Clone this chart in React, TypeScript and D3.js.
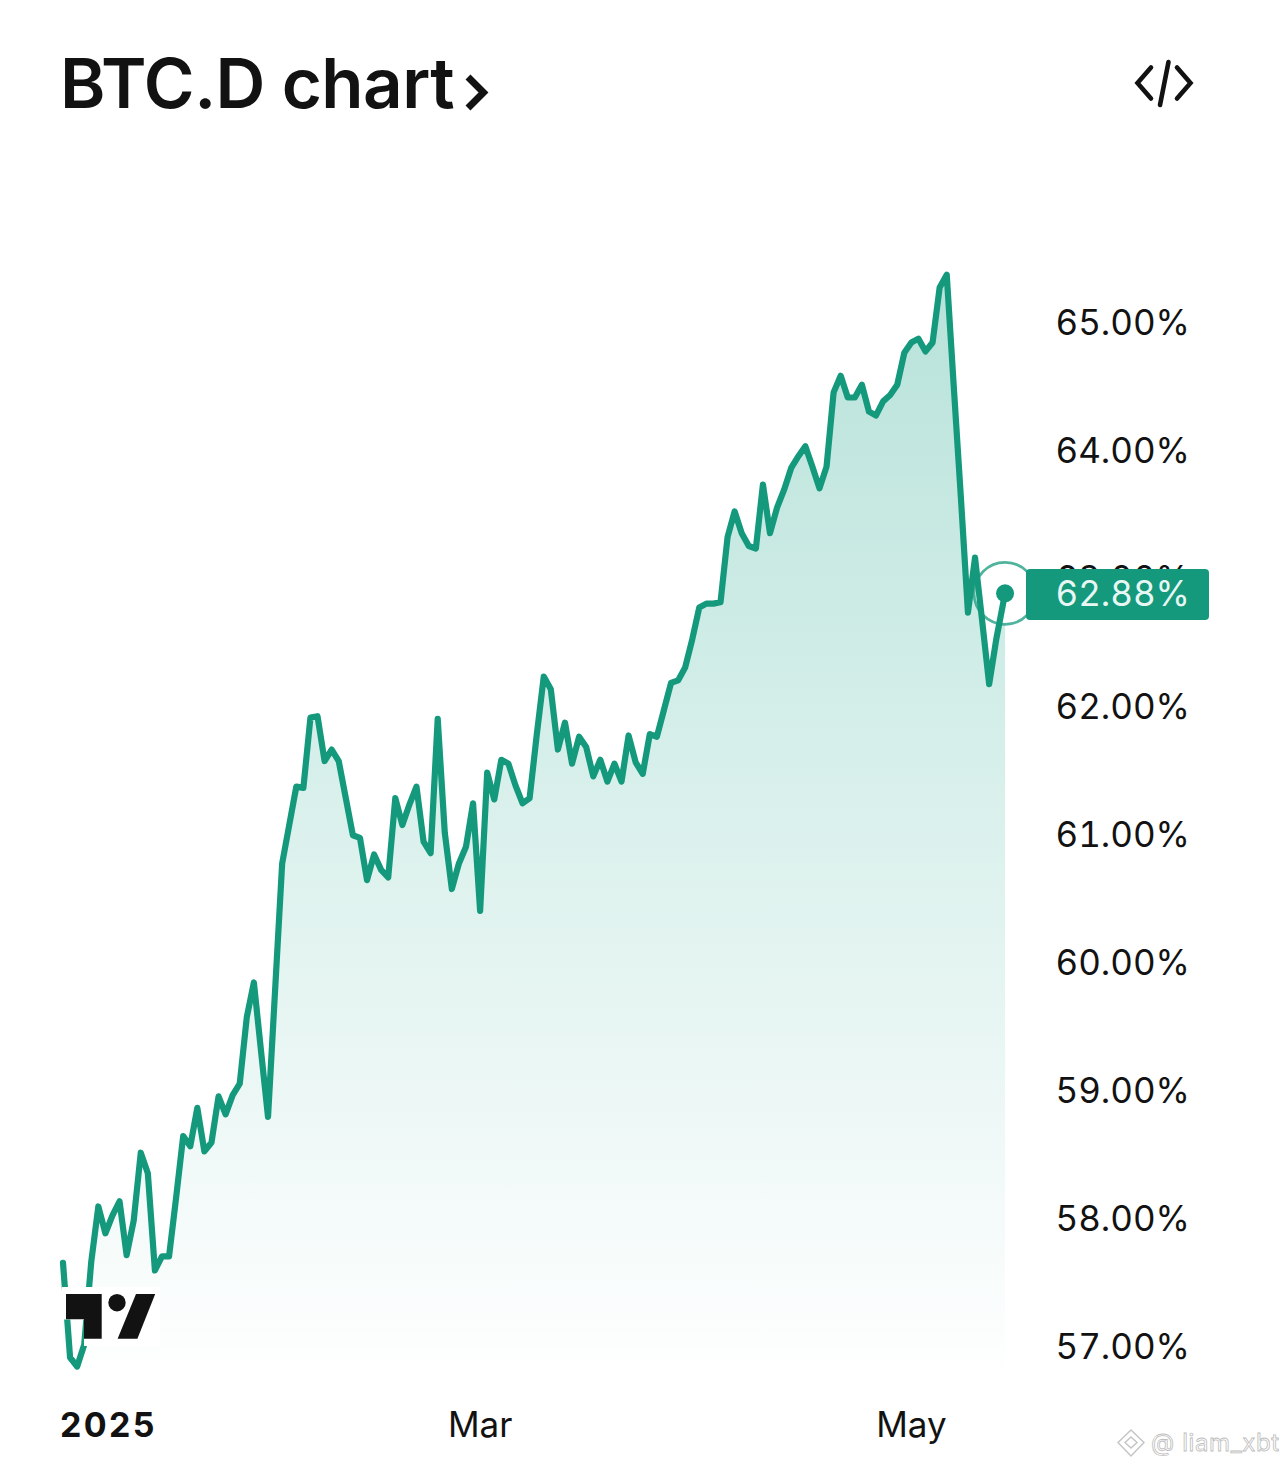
import React from "react";
import * as d3 from "d3";

const title = "BTC.D chart";
const startDate = new Date(2025, 0, 1);
const lastSampleHours = 6;
const dominance = [
  57.65, 56.91, 56.84, 57.01, 57.66, 58.09, 57.88, 58.02, 58.13, 57.71,
  57.98, 58.51, 58.35, 57.59, 57.70, 57.70, 58.16, 58.64, 58.56, 58.86,
  58.52, 58.59, 58.95, 58.81, 58.96, 59.05, 59.57, 59.84, 59.31, 58.79,
  59.78, 60.77, 61.07, 61.37, 61.36, 61.91, 61.92, 61.57, 61.66, 61.57,
  61.28, 60.99, 60.97, 60.64, 60.84, 60.72, 60.66, 61.28, 61.07, 61.23,
  61.37, 60.94, 60.85, 61.90, 61.01, 60.57, 60.77, 60.90, 61.24, 60.40,
  61.48, 61.27, 61.58, 61.55, 61.38, 61.24, 61.28, 61.77, 62.23, 62.13,
  61.66, 61.87, 61.55, 61.76, 61.68, 61.45, 61.58, 61.41, 61.55, 61.41,
  61.77, 61.56, 61.47, 61.78, 61.76, 61.97, 62.18, 62.20, 62.30, 62.52,
  62.77, 62.80, 62.80, 62.81, 63.32, 63.52, 63.35, 63.25, 63.23, 63.73,
  63.35, 63.55, 63.69, 63.86, 63.95, 64.03, 63.87, 63.70, 63.87, 64.45,
  64.58, 64.41, 64.41, 64.51, 64.30, 64.27, 64.38, 64.43, 64.51, 64.76,
  64.84, 64.87, 64.77, 64.84, 65.27, 65.37, 64.49, 63.63, 62.73, 63.16,
  62.67, 62.17, 62.52, 62.88,
];
const yTicks = [57, 58, 59, 60, 61, 62, 63, 64, 65];
const xTicks = [
  { date: new Date(2025, 2, 1), label: "Mar" },
  { date: new Date(2025, 4, 1), label: "May" },
];
const yearLabel = "2025";
const lastLabel = "62.88%";
const watermark = "@ liam_xbt";

const TEAL = "#14997d";
const INK = "#121212";
const FONT = "Inter, sans-serif";

export default function App() {
  const n = dominance.length;
  const dates = dominance.map((_, i) =>
    i === n - 1
      ? d3.timeHour.offset(d3.timeDay.offset(startDate, i), lastSampleHours)
      : d3.timeDay.offset(startDate, i)
  );
  const x = d3
    .scaleTime()
    .domain([startDate, d3.timeDay.offset(startDate, n - 1)])
    .range([63, 1003.3]);
  const y = d3.scaleLinear().domain([57, 65]).range([1346, 322]);
  const baseline = 1400;

  const line = d3.line<number>().x((_, i) => x(dates[i])).y((d) => y(d)).curve(d3.curveLinear);
  const area = d3.area<number>().x((_, i) => x(dates[i])).y0(baseline).y1((d) => y(d)).curve(d3.curveLinear);

  const lastV = dominance[n - 1];
  const lastX = x(dates[n - 1]);
  const lastY = y(lastV);
  const tabular = { fontVariantNumeric: "tabular-nums" } as React.CSSProperties;

  return (
    <svg
      width={1284}
      height={1467}
      viewBox="0 0 1284 1467"
      style={{ position: "absolute", left: 0, top: 0, background: "#fff" }}
    >
      <defs>
        <linearGradient id="fill" gradientUnits="userSpaceOnUse" x1="0" y1="275" x2="0" y2="1385">
          <stop offset="0" stopColor="#10a083" stopOpacity={0.3} />
          <stop offset="0.5" stopColor="#10a083" stopOpacity={0.15} />
          <stop offset="1" stopColor="#10a083" stopOpacity={0} />
        </linearGradient>
      </defs>

      <text x={60} y={108} fontFamily={FONT} fontSize={69} fontWeight={600} fill={INK} letterSpacing={-0.55}>
        {title}
      </text>
      <path d="M468 77 L483.5 92.5 L468 108" fill="none" stroke={INK} strokeWidth={7} />

      <g fill="none" stroke={INK} strokeWidth={4.6} strokeLinecap="round" strokeLinejoin="miter">
        <path d="M1151 67.5 L1137.5 83 L1151 98.5" />
        <path d="M1177 67.5 L1190.5 83 L1177 98.5" />
        <path d="M1168.5 62 L1160 105" />
      </g>

      {yTicks.map((t) => (
        <text
          key={t}
          x={1190}
          y={y(t)}
          dy="0.36em"
          textAnchor="end"
          fontFamily={FONT}
          fontSize={35}
          fontWeight={400}
          fill={INK}
          style={tabular}
        >
          {`${t.toFixed(2)}%`}
        </text>
      ))}

      <path d={area(dominance) ?? ""} fill="url(#fill)" />

      <circle cx={lastX} cy={lastY} r={31} fill="#ffffff" fillOpacity={0.92} stroke={TEAL} strokeOpacity={0.75} strokeWidth={2.7} />

      <rect x={1026} y={569} width={183} height={51} rx={4} fill={TEAL} />
      <text
        x={1190}
        y={lastY}
        dy="0.36em"
        textAnchor="end"
        fontFamily={FONT}
        fontSize={35}
        fill="#e8f7f3"
        style={tabular}
      >
        {lastLabel}
      </text>

      <path
        d={line(dominance) ?? ""}
        fill="none"
        stroke={TEAL}
        strokeWidth={6.2}
        strokeLinejoin="round"
        strokeLinecap="round"
      />
      <circle cx={lastX} cy={lastY} r={9} fill={TEAL} />

      <path d="M62 1287 H160 V1346 H84 V1319.5 H62 Z" fill="#ffffff" />
      <path d="M66 1294 H101.7 V1338.7 H84 V1319.3 H66 Z" fill={INK} />
      <circle cx={117} cy={1302.7} r={8.7} fill={INK} />
      <path d="M155.2 1294 L137.4 1338.7 H117.6 L136 1294 Z" fill={INK} />

      <text x={60} y={1437} fontFamily={FONT} fontSize={34} fontWeight={700} fill={INK} letterSpacing={2.3}>
        {yearLabel}
      </text>
      {xTicks.map((t) => (
        <text
          key={t.label}
          x={x(t.date)}
          y={1437}
          textAnchor="middle"
          fontFamily={FONT}
          fontSize={35}
          fill={INK}
        >
          {t.label}
        </text>
      ))}

      <g fill="#ffffff" stroke="#c4c4c4" strokeWidth={1.4}>
        <path d="M1131 1430 L1144 1442.5 L1131 1456 L1118 1442.5 Z" />
        <path d="M1131 1437 L1137 1442.5 L1131 1448 L1125 1442.5 Z" />
      </g>
      <text
        x={1151}
        y={1451}
        fontFamily={FONT}
        fontSize={24}
        fill="#ffffff"
        stroke="#bdbdbd"
        strokeWidth={0.8}
        letterSpacing={0.6}
      >
        {watermark}
      </text>
    </svg>
  );
}
